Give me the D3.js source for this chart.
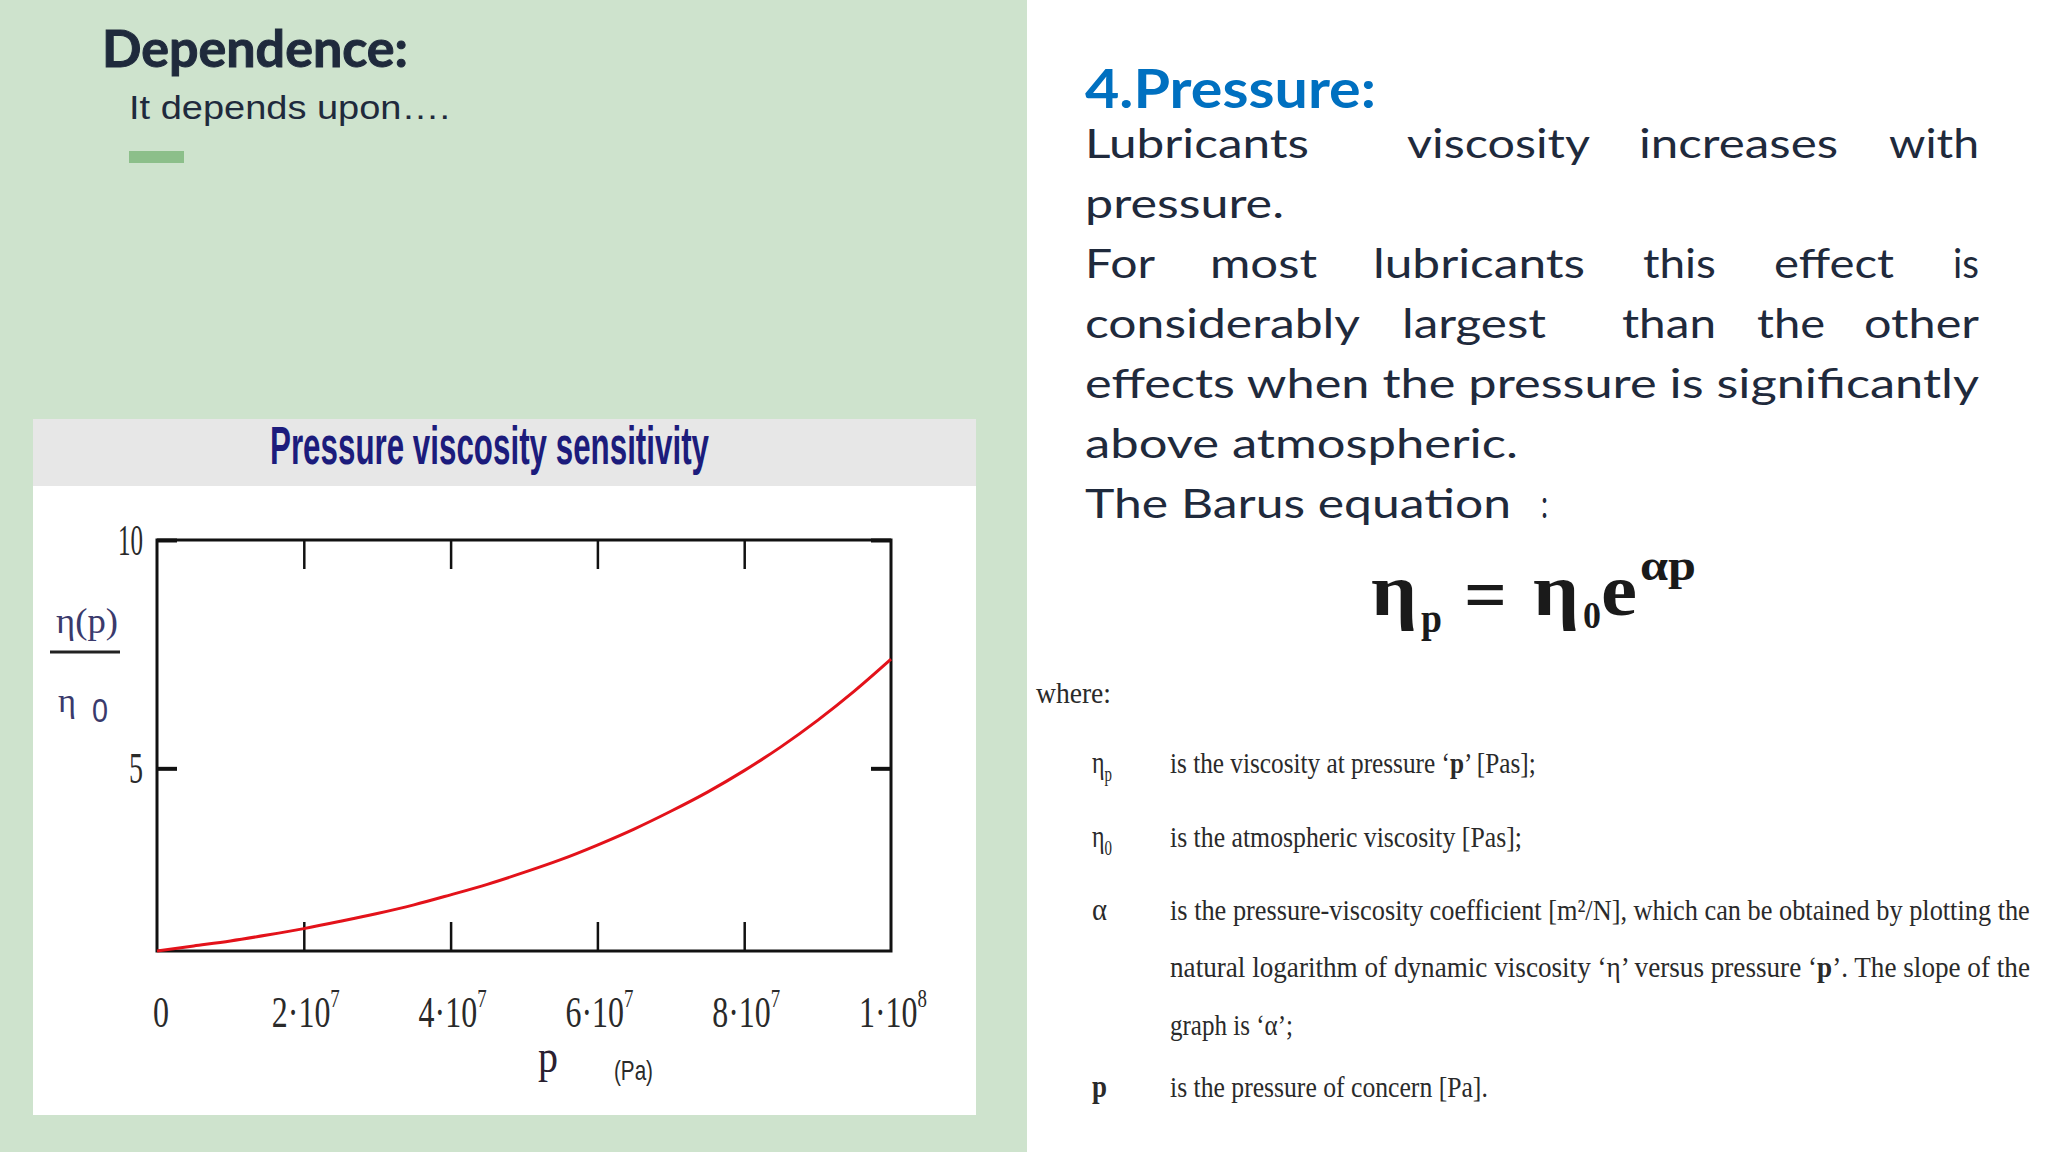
<!DOCTYPE html>
<html>
<head>
<meta charset="utf-8">
<script src="https://cdn.jsdelivr.net/npm/d3@7"></script>
<style>
  body { margin: 0; background: #fff; }
</style>
</head>
<body>
<script>
// values
let pressure = [0, 5e6, 1e7, 1.5e7, 2e7, 2.5e7, 3e7, 3.5e7, 4e7, 4.5e7, 5e7,
                5.5e7, 6e7, 6.5e7, 7e7, 7.5e7, 8e7, 8.5e7, 9e7, 9.5e7, 1e8];
let viscosityRatio = [1.00, 1.11, 1.22, 1.35, 1.49, 1.65, 1.82, 2.01, 2.23, 2.46, 2.72,
                      3.00, 3.32, 3.67, 4.06, 4.48, 4.95, 5.47, 6.05, 6.69, 7.39];
let xTicks = [0, 2e7, 4e7, 6e7, 8e7, 1e8];
let xTickMantissa = ['0', '2·10', '4·10', '6·10', '8·10', '1·10'];
let xTickPower = ['', '7', '7', '7', '7', '8'];
let yTicks = [5, 10];

let svg = d3.select('body').append('svg').attr('width', 2048).attr('height', 1152);

// slide backgrounds
svg.append('rect').attr('x', 0).attr('y', 0).attr('width', 2048).attr('height', 1152).attr('fill', '#ffffff');
svg.append('rect').attr('x', 0).attr('y', 0).attr('width', 1027).attr('height', 1152).attr('fill', '#cee3cd');

function txt(x, y, s, size, family, opts) {
  opts = opts || {};
  let t = svg.append('text').attr('x', x).attr('y', y)
    .attr('font-size', size + 'px').attr('font-family', family)
    .attr('fill', opts.fill || '#1f2a3c')
    .attr('font-weight', opts.weight || 'normal')
    .attr('text-anchor', opts.anchor || 'start')
    .text(s);
  if (opts.len) t.attr('textLength', opts.len).attr('lengthAdjust', 'spacingAndGlyphs');
  return t;
}

// squeeze a text (with tspans) horizontally to a given width
function squeeze(t, x0, y0, w) {
  let n = t.node().getComputedTextLength();
  t.attr('x', 0).attr('y', 0).attr('transform', 'translate(' + x0 + ',' + y0 + ') scale(' + (w / n) + ',1)');
}

// left heading
txt(102, 67, 'Dependence:', 51, 'Lato, sans-serif', {weight: 'bold', len: 306})
  .attr('stroke', '#1f2a3c').attr('stroke-width', 1);
txt(129, 119, 'It depends upon….', 34, '"Liberation Sans", Arial, sans-serif', {len: 321});
svg.append('rect').attr('x', 129).attr('y', 151).attr('width', 55).attr('height', 12).attr('fill', '#8cbf8a');

// chart panel
svg.append('rect').attr('x', 33).attr('y', 419).attr('width', 943).attr('height', 67).attr('fill', '#e7e7e7');
svg.append('rect').attr('x', 33).attr('y', 486).attr('width', 943).attr('height', 629).attr('fill', '#ffffff');
txt(270, 464, 'Pressure viscosity sensitivity', 53, '"Liberation Sans Narrow", "Arial Narrow", "Liberation Sans", sans-serif',
  {weight: 'bold', fill: '#1c1c7c', len: 439});

let x = d3.scaleLinear().domain([0, 1e8]).range([157, 891]);
let y = d3.scaleLinear().domain([1, 10]).range([951, 540]);

let inner = xTicks.slice(1, 5);
let gB = svg.append('g').attr('transform', 'translate(0,951)')
  .call(d3.axisBottom(x).tickValues(inner).tickSizeInner(-29).tickSizeOuter(0).tickFormat(''));
let gT = svg.append('g').attr('transform', 'translate(0,540)')
  .call(d3.axisTop(x).tickValues(inner).tickSizeInner(-29).tickSizeOuter(0).tickFormat(''));
let gL = svg.append('g').attr('transform', 'translate(157,0)')
  .call(d3.axisLeft(y).tickValues(yTicks).tickSizeInner(-20).tickSizeOuter(0).tickFormat(''));
let gR = svg.append('g').attr('transform', 'translate(891,0)')
  .call(d3.axisRight(y).tickValues(yTicks).tickSizeInner(-20).tickSizeOuter(0).tickFormat(''));
[gB, gT].forEach(g => { g.select('.domain').remove(); g.selectAll('line').attr('stroke', '#111').attr('stroke-width', 2.5); });
[gL, gR].forEach(g => { g.select('.domain').remove(); g.selectAll('line').attr('stroke', '#111').attr('stroke-width', 4); });

// frame
svg.append('rect').attr('x', x(0)).attr('y', y(10)).attr('width', x(1e8) - x(0)).attr('height', y(1) - y(10))
  .attr('fill', 'none').attr('stroke', '#111').attr('stroke-width', 3);

// curve
let line = d3.line().x((d, i) => x(pressure[i])).y(d => y(d)).curve(d3.curveMonotoneX);
svg.append('path').datum(viscosityRatio).attr('d', line)
  .attr('fill', 'none').attr('stroke', '#e3121a').attr('stroke-width', 3);

// x tick labels
xTicks.forEach((d, i) => {
  let t = svg.append('text')
    .attr('text-anchor', 'middle')
    .attr('font-family', '"Liberation Serif", "Times New Roman", serif')
    .attr('font-size', '44px').attr('fill', '#2a2a2a');
  t.append('tspan').text(xTickMantissa[i]);
  if (xTickPower[i]) t.append('tspan').attr('dy', -20).attr('font-size', '26px').text(xTickPower[i]);
  if (i > 0) squeeze(t, x(d) + 2, 1027, 68);
  else t.attr('x', x(d) + 4).attr('y', 1027).attr('textLength', 16).attr('lengthAdjust', 'spacingAndGlyphs');
});

// y tick labels
svg.selectAll('text.yl').data(yTicks).enter().append('text')
  .attr('class', 'yl')
  .attr('x', 143).attr('y', d => y(d) + 15)
  .attr('text-anchor', 'end')
  .attr('font-family', '"Liberation Serif", "Times New Roman", serif')
  .attr('font-size', '44px').attr('fill', '#2a2a2a')
  .attr('textLength', d => d === 10 ? 25 : 14).attr('lengthAdjust', 'spacingAndGlyphs')
  .text(d => d);

// axis titles
txt(56, 633, 'η(p)', 36, '"Liberation Serif", serif', {fill: '#3a3a6c', len: 62});
svg.append('line').attr('x1', 50).attr('x2', 120).attr('y1', 652).attr('y2', 652).attr('stroke', '#222').attr('stroke-width', 3);
txt(58, 712, 'η', 34, '"Liberation Serif", serif', {fill: '#3a3a6c', len: 18});
txt(92, 722, '0', 34, '"Liberation Sans Narrow", "Liberation Sans", sans-serif', {fill: '#3a3a6c', len: 16});
txt(538, 1072, 'p', 46, '"Liberation Serif", serif', {fill: '#2a2030', len: 20});
txt(614, 1080, '(Pa)', 28, '"Liberation Sans Narrow", "Liberation Sans", sans-serif', {fill: '#2a2a2a', len: 39});

// right side text
txt(1085, 108, '4.Pressure:', 53, 'Lato, sans-serif', {weight: 'bold', fill: '#0070c0', len: 291});

let paragraph = [
  {y: 158, words: [['Lubricants', 1085, 1309], ['viscosity', 1407, 1590], ['increases', 1639, 1838], ['with', 1889, 1979]]},
  {y: 218, words: [['pressure.', 1085, 1284]]},
  {y: 278, words: [['For', 1085, 1155], ['most', 1210, 1317], ['lubricants', 1373, 1585], ['this', 1643, 1716], ['effect', 1774, 1894], ['is', 1953, 1979]]},
  {y: 338, words: [['considerably', 1085, 1360], ['largest', 1402, 1546], ['than', 1622, 1716], ['the', 1757, 1825], ['other', 1864, 1979]]},
  {y: 398, words: [['effects when the pressure is significantly', 1085, 1979]]},
  {y: 458, words: [['above atmospheric.', 1085, 1518]]},
  {y: 518, words: [['The Barus equation', 1085, 1511], [':', 1541, 1548]]}
];
paragraph.forEach(l => l.words.forEach(w => {
  txt(w[1], l.y, w[0], 40, 'Lato, sans-serif', {fill: '#1f2a3c', len: w[2] - w[1]});
}));

// Barus equation
let eqFont = '"Liberation Serif", "DejaVu Serif", serif';
txt(1371, 615, 'η', 74, eqFont, {weight: 'bold', fill: '#1a1a1a', len: 46});
txt(1421, 632, 'p', 40, eqFont, {weight: 'bold', fill: '#1a1a1a', len: 21});
txt(1464, 620, '=', 74, eqFont, {weight: 'bold', fill: '#1a1a1a', len: 43});
txt(1533, 615, 'η', 74, eqFont, {weight: 'bold', fill: '#1a1a1a', len: 46});
txt(1583, 628, '0', 38, eqFont, {weight: 'bold', fill: '#1a1a1a', len: 18});
txt(1601, 615, 'e', 74, eqFont, {weight: 'bold', fill: '#1a1a1a', len: 36});
txt(1640, 580, 'αp', 44, eqFont, {weight: 'bold', fill: '#1a1a1a', len: 56});

// definitions
let serif = '"Liberation Serif", "Times New Roman", serif';
txt(1036, 703, 'where:', 30, serif, {fill: '#2a2a2a', len: 75});

let defs = [
  {y: 773, sym: 'η', sub: 'p', parts: [['is the viscosity at pressure ‘', 0], ['p', 1], ['’ [Pas];', 0]], end: 1536},
  {y: 847, sym: 'η', sub: '0', parts: [['is the atmospheric viscosity [Pas];', 0]], end: 1522},
  {y: 920, sym: 'α', sub: '', parts: [['is the pressure-viscosity coefficient [m²/N], which can be obtained by plotting the', 0]], end: 2030},
  {y: 977, sym: '', sub: '', parts: [['natural logarithm of dynamic viscosity ‘η’ versus pressure ‘', 0], ['p', 1], ['’. The slope of the', 0]], end: 2030},
  {y: 1035, sym: '', sub: '', parts: [['graph is ‘α’;', 0]], end: 1293},
  {y: 1097, sym: 'p', sub: '', parts: [['is the pressure of concern [Pa].', 0]], end: 1488}
];
defs.forEach(d => {
  if (d.sym) {
    let s = svg.append('text').attr('font-family', serif).attr('font-size', '32px').attr('fill', '#2a2a2a')
      .attr('font-weight', d.sym === 'p' ? 'bold' : 'normal');
    s.append('tspan').text(d.sym);
    if (d.sub) s.append('tspan').attr('dy', 8).attr('font-size', '20px').text(d.sub);
    squeeze(s, 1092, d.y, d.sub ? 20 : 15);
  }
  let t = svg.append('text')
    .attr('font-family', serif).attr('font-size', '30px').attr('fill', '#2a2a2a');
  d.parts.forEach(p => t.append('tspan').attr('font-weight', p[1] ? 'bold' : 'normal').text(p[0]));
  squeeze(t, 1170, d.y, d.end - 1170);
});
</script>
</body>
</html>
